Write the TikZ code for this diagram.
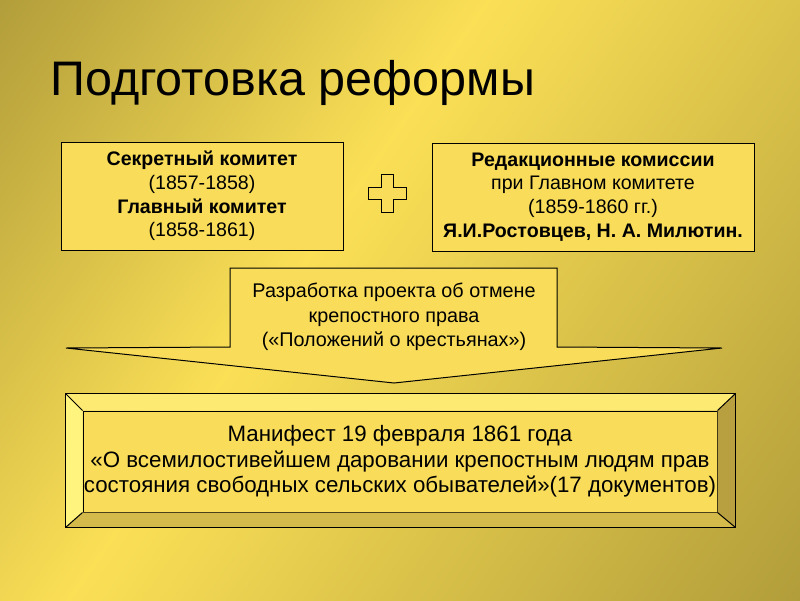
\documentclass[tikz,border=0pt]{standalone}
\usepackage{fontspec}
\setmainfont{Liberation Sans}
\definecolor{bgdark}{RGB}{176,156,58}
\definecolor{bglight}{RGB}{251,224,86}
\definecolor{boxfill}{RGB}{249,221,90}
\definecolor{bevtop}{RGB}{252,234,115}
\definecolor{bevleft}{RGB}{255,244,125}
\definecolor{bevright}{RGB}{184,160,64}
\definecolor{bevbot}{RGB}{212,186,74}

\begin{document}
\begin{tikzpicture}[x=1pt,y=-1pt,
	box/.style={draw=black,line width=1pt,fill=boxfill,align=center,inner sep=0pt,text=black},
	shape line/.style={draw=black,line width=1pt}]
	\useasboundingbox (0,0) rectangle (800,600);
	
	\begin{scope}
		\clip (0,0) rectangle (800,600);
		\shade[transform canvas={rotate=-35},left color=bgdark,right color=bglight] (-10,-520) rectangle (402,520);
		\shade[transform canvas={rotate=-35},left color=bglight,right color=bgdark] (398,-520) rectangle (1010,520);
	\end{scope}
	
	\node[anchor=base west,inner sep=0pt,font=\fontsize{48.5}{56}\selectfont] (title) at (50,95) {Подготовка реформы};
	
	\node[box,minimum width=282pt,minimum height=108pt,font=\fontsize{19.6}{23.8}\selectfont] (komitet) at (202,196)
	{{\bfseries Секретный комитет}\\(1857-1858)\\{\bfseries Главный комитет}\\(1858-1861)};
	\node[box,minimum width=322pt,minimum height=108pt,font=\fontsize{19.6}{23.8}\selectfont] (komissii) at (593,197)
	{{\bfseries Редакционные комиссии}\\при Главном комитете\\(1859-1860 гг.)\\{\bfseries Я.И.Ростовцев, Н. А. Милютин.}};
	
	\coordinate (plus) at (387.5,193);
	\draw[shape line,fill=boxfill] (plus) ++(-6,-19) -- ++(12,0) -- ++(0,13) -- ++(13,0) -- ++(0,12) -- ++(-13,0)
	-- ++(0,13) -- ++(-12,0) -- ++(0,-13) -- ++(-13,0) -- ++(0,-12) -- ++(13,0) -- cycle;
	
	\draw[shape line,fill=boxfill] (230,268) -- (557,268) -- (557,347) -- (722,348) -- (394,383) -- (66,348) -- (230,347) -- cycle;
	\node[inner sep=0pt,align=center,font=\fontsize{19.8}{24.5}\selectfont] (proekt) at (394,317)
	{Разработка проекта об отмене\\крепостного права\\(«Положений о крестьянах»)};
	
	\node[box,minimum width=634pt,minimum height=101pt,font=\fontsize{22.3}{25.5}\selectfont] (manifest) at (400,461.5)
	{Манифест 19 февраля 1861 года\\«О всемилостивейшем даровании крепостным людям прав\\состояния свободных сельских обывателей»(17 документов)};
	\coordinate (otl) at ([shift={(-17,-17)}]manifest.north west);
	\coordinate (otr) at ([shift={(18,-17)}]manifest.north east);
	\coordinate (obl) at ([shift={(-17,15)}]manifest.south west);
	\coordinate (obr) at ([shift={(18,15)}]manifest.south east);
	\fill[bevtop] (otl) -- (otr) -- (manifest.north east) -- (manifest.north west) -- cycle;
	\fill[bevleft] (otl) -- (manifest.north west) -- (manifest.south west) -- (obl) -- cycle;
	\fill[bevright] (otr) -- (obr) -- (manifest.south east) -- (manifest.north east) -- cycle;
	\fill[bevbot] (obl) -- (manifest.south west) -- (manifest.south east) -- (obr) -- cycle;
	\draw[shape line] (otl) rectangle (obr);
	\draw[shape line] (otl) -- (manifest.north west) (otr) -- (manifest.north east)
	(obl) -- (manifest.south west) (obr) -- (manifest.south east);
\end{tikzpicture}
\end{document}
